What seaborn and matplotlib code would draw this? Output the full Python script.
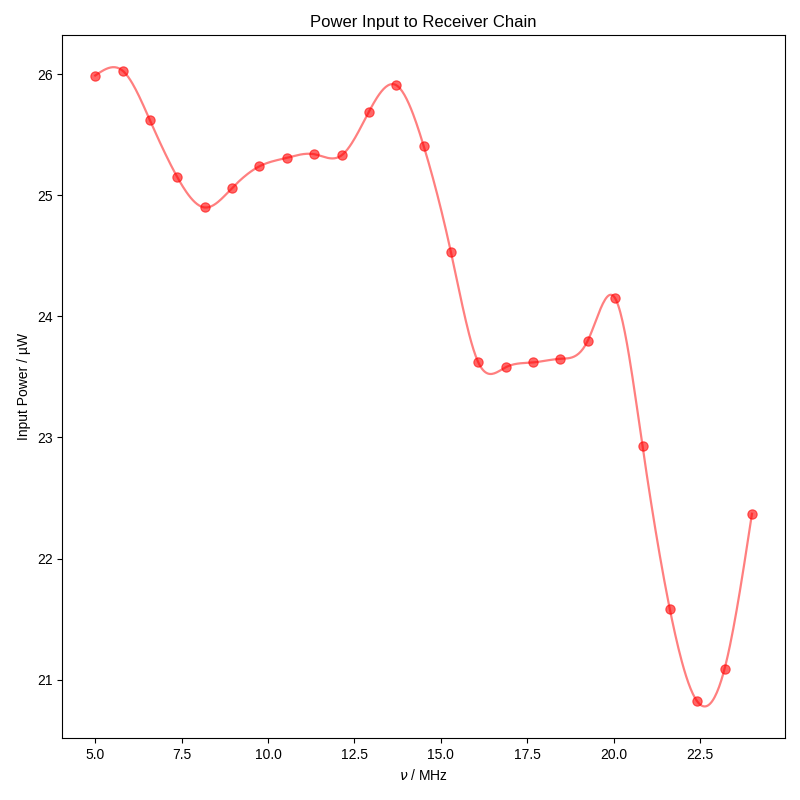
import numpy as np
import pandas as pd
import matplotlib
matplotlib.use("Agg")
import matplotlib.pyplot as plt
import seaborn as sns

freq = np.linspace(5.0, 24.0, 25)
power = [25.99, 26.03, 25.62, 25.15, 24.90, 25.06, 25.24, 25.31, 25.34, 25.33,
         25.69, 25.91, 25.41, 24.53, 23.62, 23.58, 23.62, 23.65, 23.80, 24.15,
         22.93, 21.58, 20.82, 21.09, 22.37]

def natural_spline(x, y, xs):
    x = np.asarray(x, float); y = np.asarray(y, float)
    n = len(x); h = np.diff(x)
    A = np.zeros((n, n)); b = np.zeros(n)
    A[0, 0] = A[-1, -1] = 1
    for i in range(1, n - 1):
        A[i, i - 1] = h[i - 1]; A[i, i] = 2 * (h[i - 1] + h[i]); A[i, i + 1] = h[i]
        b[i] = 3 * ((y[i + 1] - y[i]) / h[i] - (y[i] - y[i - 1]) / h[i - 1])
    c = np.linalg.solve(A, b)
    bb = (y[1:] - y[:-1]) / h - h * (2 * c[:-1] + c[1:]) / 3
    d = (c[1:] - c[:-1]) / (3 * h)
    idx = np.clip(np.searchsorted(x, xs) - 1, 0, n - 2)
    dx = xs - x[idx]
    return y[idx] + bb[idx] * dx + c[idx] * dx**2 + d[idx] * dx**3

plt.rcParams['font.family'] = ['Liberation Sans', 'DejaVu Sans']
fig, ax = plt.subplots(figsize=(8, 8), dpi=100)
xs = np.linspace(freq[0], freq[-1], 600)
smooth = pd.DataFrame({"x": xs, "y": natural_spline(freq, power, xs)})
pts = pd.DataFrame({"x": freq, "y": power})
sns.lineplot(data=smooth, x="x", y="y", ax=ax, color="red", alpha=0.5, lw=1.6)
sns.scatterplot(data=pts, x="x", y="y", ax=ax, color="red", alpha=0.6, s=45, edgecolor="red", linewidth=0.8)
ax.set_title("Power Input to Receiver Chain")
ax.set_xlabel(r"$\nu$ / MHz")
ax.set_ylabel("Input Power / µW")
ax.set_yticks([21, 22, 23, 24, 25, 26])
fig.subplots_adjust(left=0.078, right=0.981, top=0.956, bottom=0.077)
fig.savefig("out.png")
